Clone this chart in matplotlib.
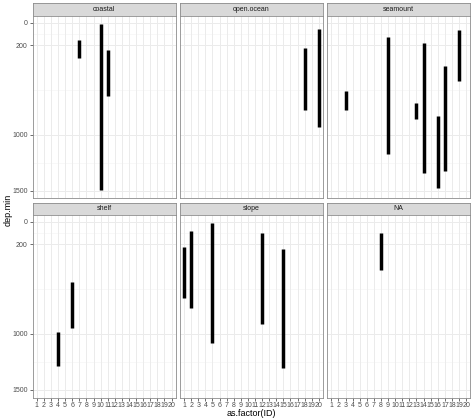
import matplotlib
matplotlib.use("Agg")
import matplotlib.pyplot as plt

plt.rcParams["font.family"] = ["Liberation Sans", "DejaVu Sans"]

# ---- data ----
facet_names = ["coastal", "open.ocean", "seamount", "shelf", "slope", "NA"]

coastal_id = [7, 10, 11]
coastal_min = [152, 15, 248]
coastal_max = [314, 1494, 658]

open_ocean_id = [18, 20]
open_ocean_min = [227, 57]
open_ocean_max = [780, 932]

seamount_id = [3, 9, 13, 14, 16, 17, 19]
seamount_min = [607, 132, 717, 179, 837, 383, 66]
seamount_max = [777, 1171, 860, 1339, 1478, 1323, 523]

shelf_id = [4, 6]
shelf_min = [983, 534]
shelf_max = [1288, 945]

slope_id = [1, 2, 5, 12, 15]
slope_min = [224, 77, 12, 100, 239]
slope_max = [682, 773, 1083, 909, 1308]

na_id = [8]
na_min = [100]
na_max = [431]

id_levels = list(range(1, 21))
y_breaks = [0, 200, 1000, 1500]
y_minor = [100, 600, 1250]

facet_data = [
    (coastal_id, coastal_min, coastal_max),
    (open_ocean_id, open_ocean_min, open_ocean_max),
    (seamount_id, seamount_min, seamount_max),
    (shelf_id, shelf_min, shelf_max),
    (slope_id, slope_min, slope_max),
    (na_id, na_min, na_max),
]

# ---- layout ----
W, H = 474, 420
fig = plt.figure(figsize=(W / 100, H / 100), dpi=100)
fig.patch.set_facecolor("white")

all_vals = [v for d in facet_data for v in d[1] + d[2]]
lo, hi = min(all_vals), max(all_vals)
pad = 0.05 * (hi - lo)

left0 = 32.5
pw = 143.3
gap = 4.0
strip_h = 12.4
panel_h = 182.5
row_tops = [3.3, 202.6]

border_col = "#8c8c8c"
grid_major = "#ebebeb"
grid_minor = "#f4f4f4"
tick_col = "#4d4d4d"

for i, (name, (ids, mins, maxs)) in enumerate(zip(facet_names, facet_data)):
    r, c = divmod(i, 3)
    x0 = left0 + c * (pw + gap)
    st = row_tops[r]
    # strip
    sax = fig.add_axes([x0 / W, 1 - (st + strip_h) / H, pw / W, strip_h / H])
    sax.set_xticks([]); sax.set_yticks([])
    sax.set_facecolor("#d9d9d9")
    for sp in sax.spines.values():
        sp.set_color(border_col); sp.set_linewidth(0.6)
    sax.text(0.5, 0.5, name, ha="center", va="center", fontsize=5, color="#1a1a1a",
             transform=sax.transAxes)
    # panel
    pt = st + strip_h
    ax = fig.add_axes([x0 / W, 1 - (pt + panel_h) / H, pw / W, panel_h / H])
    ax.set_facecolor("white")
    ax.set_xlim(0.4, 20.6)
    ax.set_ylim(hi + pad, lo - pad)
    for yb in y_minor:
        ax.axhline(yb, color=grid_minor, lw=0.4, zorder=0)
    for yb in y_breaks:
        ax.axhline(yb, color=grid_major, lw=0.7, zorder=0)
    for xb in id_levels:
        ax.axvline(xb, color=grid_major, lw=0.7, zorder=0)
    ax.vlines(ids, mins, maxs, color="black", lw=2.5, zorder=3)
    for sp in ax.spines.values():
        sp.set_color(border_col); sp.set_linewidth(0.6)
    ax.set_xticks(id_levels)
    ax.set_xticklabels([str(v) for v in id_levels])
    ax.set_yticks(y_breaks)
    ax.set_yticklabels([str(v) for v in y_breaks])
    ax.tick_params(axis="both", length=2, width=0.5, color="#333333",
                   labelsize=5, labelcolor=tick_col, pad=1.5)
    if r == 0:
        ax.tick_params(axis="x", bottom=False, labelbottom=False)
    if c != 0:
        ax.tick_params(axis="y", left=False, labelleft=False)

fig.text(251 / W, 1 - 413 / H, "as.factor(ID)", ha="center", va="center", fontsize=6.5, color="black")
fig.text(8 / W, 1 - 210 / H, "dep.min", ha="center", va="center", rotation=90, fontsize=6.5, color="black")

fig.savefig("out.png", dpi=100)
